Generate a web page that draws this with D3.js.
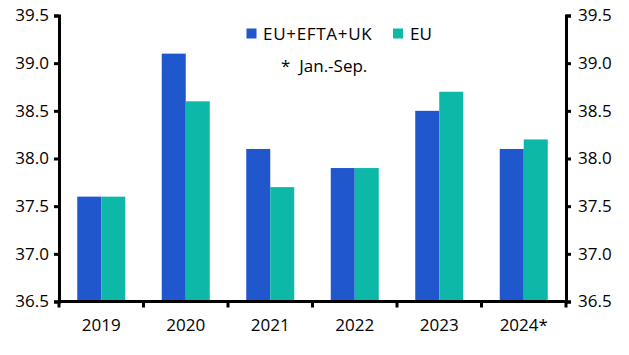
<!DOCTYPE html>
<html><head><meta charset="utf-8">
<script src="https://cdn.jsdelivr.net/npm/d3@7"></script>
<style>body{margin:0;background:#fff}svg{display:block}text{font-family:"Open Sans",sans-serif;fill:#000}</style>
</head><body><svg id="c" width="629" height="355"></svg>
<script>
const categories = ["2019","2020","2021","2022","2023","2024*"];
const euEftaUk = [37.6,39.1,38.1,37.9,38.5,38.1];
const eu = [37.6,38.6,37.7,37.9,38.7,38.2];
const seriesNames = ["EU+EFTA+UK","EU"];
const yTicks = [36.5,37.0,37.5,38.0,38.5,39.0,39.5];
const note = "*  Jan.-Sep.";
const colors = ["#2157cc","#0db8a8"];

const svg = d3.select("#c");
const L=59, R=566, T=15.5, B=301.5;
const x = d3.scaleBand().domain(categories).range([L,R]);
const y = d3.scaleLinear().domain([36.5,39.5]).range([B,T]);
const bw = 24;
const series=[euEftaUk,eu];
series.forEach((vals,si)=>{
  svg.append("g").selectAll("rect").data(vals).join("rect")
    .attr("x",(d,i)=>x(categories[i])+x.bandwidth()/2-bw+si*bw)
    .attr("width",bw)
    .attr("y",d=>y(d)).attr("height",d=>B-y(d))
    .attr("fill",colors[si]);
});
const fs=17;
const la = svg.append("g").attr("transform",`translate(${L},0)`)
  .call(d3.axisLeft(y).tickValues(yTicks).tickFormat(d3.format(".1f")).tickSize(5).tickPadding(5));
const ra = svg.append("g").attr("transform",`translate(${R},0)`)
  .call(d3.axisRight(y).tickValues(yTicks).tickFormat(d3.format(".1f")).tickSize(5).tickPadding(7));
const ba = svg.append("g").attr("transform",`translate(0,${B})`)
  .call(d3.axisBottom(x).tickSize(0).tickPadding(17));
// boundary ticks
svg.append("g").selectAll("line").data(d3.range(categories.length+1)).join("line")
  .attr("x1",i=>L+i*x.step()).attr("x2",i=>L+i*x.step())
  .attr("y1",B).attr("y2",B+6).attr("stroke","#000").attr("stroke-width",3);
[la,ra,ba].forEach(a=>{
  a.select(".domain").attr("stroke","#000").attr("stroke-width",3);
  a.selectAll(".tick line").attr("stroke","#000").attr("stroke-width",3);
  a.selectAll("text").style("font-size",fs+"px").style("font-family","'Open Sans',sans-serif");
});
ba.select(".domain").attr("d",`M${L-1.5},0H${R+1.5}`);
// legend
const lg = svg.append("g");
const lx=[246.5,393];
const tx=[263,410];
const ls=[0.7,0];
seriesNames.forEach((n,i)=>{
  lg.append("rect").attr("x",lx[i]).attr("y",28.5).attr("width",10).attr("height",10).attr("fill",colors[i]);
  lg.append("text").attr("x",tx[i]).attr("y",40).style("font-size",fs+"px").style("letter-spacing",ls[i]+"px").text(n);
});
lg.append("text").attr("x",281).attr("y",72).style("font-size",fs+"px").attr("xml:space","preserve").style("white-space","pre").text(note);
</script></body></html>
